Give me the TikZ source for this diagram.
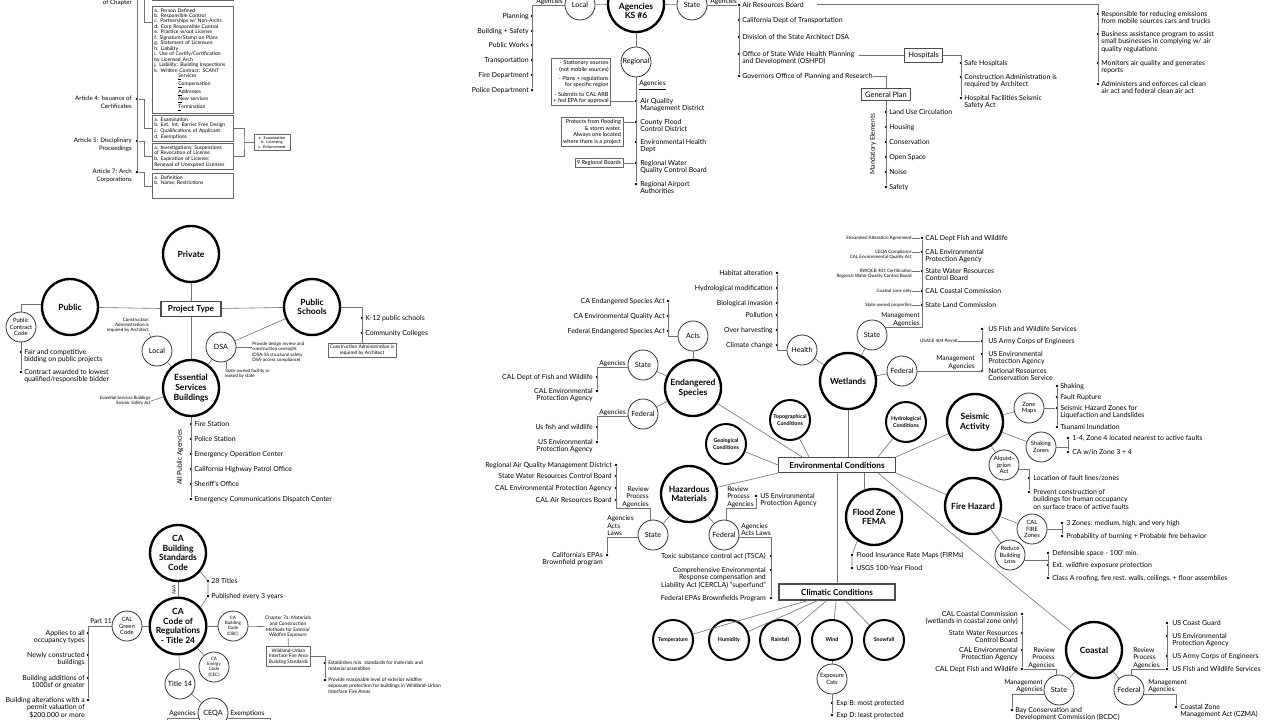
\documentclass[tikz,border=0pt]{standalone}
\usepackage{fontspec}
\setmainfont{Lato}
\usetikzlibrary{positioning,calc}
\setlength{\lineskiplimit}{-5pt}

\begin{document}
\begin{tikzpicture}[
    x=0.75pt, y=-0.75pt,
    conn/.style={draw=black!55, line width=0.45pt},
    bigc/.style={circle, draw, line width=1.8pt, fill=white, minimum size=42pt,
                 inner sep=0pt, align=center, font=\bfseries\fontsize{6.4}{7.2}\selectfont},
    midc/.style={circle, draw, line width=1.5pt, fill=white, minimum size=30pt,
                 inner sep=0pt, align=center, font=\bfseries\fontsize{4}{4.8}\selectfont},
    smallc/.style={circle, draw=black!80, line width=0.6pt, fill=white, minimum size=22.5pt,
                   inner sep=0pt, align=center, font=\fontsize{5.4}{5.9}\selectfont},
    tinyc/.style={smallc, font=\fontsize{3.4}{3.9}\selectfont},
    midtxt/.style={smallc, font=\fontsize{4.4}{4.9}\selectfont},
    hubbox/.style={draw=black!70, line width=0.9pt, fill=white, inner sep=1pt,
                   font=\bfseries\fontsize{6.2}{7}\selectfont},
    tbox/.style={draw=black!70, line width=0.9pt, fill=white, inner xsep=3pt, inner ysep=2.5pt,
                 font=\fontsize{5.6}{6}\selectfont},
    dot/.style={circle, fill=black, inner sep=0pt, minimum size=2.2pt},
    leafr/.style={anchor=north west, inner sep=0pt, align=left, font=\fontsize{5.2}{5.6}\selectfont},
    leafl/.style={anchor=north east, inner sep=0pt, align=right, font=\fontsize{5.2}{5.6}\selectfont},
    lbl/.style={inner sep=0pt, font=\fontsize{5}{5.6}\selectfont},
    note/.style={inner sep=0pt, font=\fontsize{3.4}{3.9}\selectfont},
    notebox/.style={draw=black!60, line width=0.5pt, fill=white, inner sep=1.5pt,
                    font=\fontsize{4.2}{4.9}\selectfont},
    artlbl/.style={inner sep=0pt, align=right, font=\fontsize{4.6}{6}\selectfont},
    artbox/.style={draw=black!60, line width=0.5pt, inner sep=1.5pt, text width=57.5pt,
                   align=left, font=\fontsize{3.8}{4.1}\selectfont},
    rot/.style={rotate=90, inner sep=0pt, font=\fontsize{5}{5.6}\selectfont}
]
\useasboundingbox[fill=white] (0,0) rectangle (1280,720);

% ---------- practice act articles
\coordinate (a3d) at (137,-8);
\node[dot] (a4d) at (137,99) {};
\node[dot] (a5d) at (137,141) {};
\node[dot] (a7d) at (137,172) {};
\draw[conn] (a3d) -- (a7d);
\node[artlbl, anchor=east] (a3) at (132,3) {of Chapter};
\node[artlbl, anchor=north east] (a4) at (132,95.5) {Article 4: Issuance of\\Certificates};
\node[artlbl, anchor=north east] (a5) at (132,137.5) {Article 5: Disciplinary\\Proceedings};
\node[artlbl, anchor=north east] (a7) at (132,168.5) {Article 7: Arch\\Corporations};

\node[artbox, anchor=south west, minimum height=30pt] (box1) at (152,1) {};
\node[artbox, anchor=north west] (box2) at (152,6) {a. Person Defined\\b. Responsible Control\\c. Partnerships w/ Non-Archs\\d. Corp Responsible Control\\e. Practice w/out License\\f. Signature/Stamp on Plans\\g. Statement of Licensure\\h. Liability\\i. Use of Certify/Certification\\by Licensed Arch\\j. Liability: Building Inspections\\k. Written Contract: SCANT\\\hspace*{18pt}\underline{S}ervices\\\hspace*{18pt}\underline{C}ompensation\\\hspace*{18pt}\underline{A}ddresses\\\hspace*{18pt}\underline{N}ew services\\\hspace*{18pt}\underline{T}ermination};
\node[artbox, anchor=north west, font=\fontsize{3.8}{4.4}\selectfont] (box3) at (152,115) {a. Examination\\b. Ext. Int. Barrier Free Design\\c. Qualifications of Applicant\\d. Exemptions};
\node[artbox, anchor=north west, font=\fontsize{3.8}{4.4}\selectfont] (box4) at (152,143) {a. Investigations; Suspensions\\of Revocation of License\\b. Expiration of License;\\Renewal of Unexpired Licenses};
\node[artbox, anchor=north west, font=\fontsize{3.8}{4.4}\selectfont] (box6) at (152,173) {a. Definition\\b. Name; Restrictions\\~\\~};
\node[artbox, text width=24pt, align=center, font=\fontsize{3}{3.6}\selectfont] (box5) at (272,142.5) {a. Examination\\b. Licensing\\c. Enforcement};
\coordinate (brk) at (244,142.5);

\draw[conn] (a3d) -- ++(7,0) |- ($(box2.north west)+(0,16)$);
\draw[conn] (a4d) -- ++(7,0) |- (box3.west);
\draw[conn] (a5d) -- ++(7,0) |- (box4.west);
\draw[conn] (a7d) -- ++(7,0) |- (box6.west);
\draw[conn] (box3.east) -| (brk) |- (box4.east);
\draw[conn] (brk) -- (box5.west);

% ---------- agencies
\node[bigc] (ks) at (636,4) {};
\node[font=\bfseries\fontsize{6.4}{7.2}\selectfont, align=center, inner sep=0pt] (kst) at (636,11) {Agencies\\KS \#6};
\node[smallc] (ksloc) at (580,5) {Local};
\node[smallc] (ksst) at (692,5) {State};
\node[smallc] (ksreg) at (636,62) {Regional};
\draw[conn] (ks) -- (ksloc);
\draw[conn] (ks) -- (ksst);
\draw[conn] (ks) -- (ksreg);

\foreach \yy/\tx [count=\i] in {16/{Planning}, 31/{Building + Safety}, 45/{Public Works}, 60/{Transportation}, 75/{Fire Department}, 90/{Police Department}}{
  \node[dot] (lo\i) at (532,\yy) {};
  \node[leafl] (lot\i) at (529,\yy-3.2) {\tx};
}
\draw[conn] (ksloc.west) -| (lo6);
\node[lbl, anchor=base east] (loag) at (563,3.5) {Agencies};

\foreach \yy/\tx [count=\i] in {5/{Air Resources Board}, 20/{California Dept of Transportation}, 37/{Division of the State Architect DSA}, 54/{Office of State Wide Health Planning\\and Development (OSHPD)}, 76/{Governors Office of Planning and Research}}{
  \node[dot] (sa\i) at (739,\yy) {};
  \node[leafr] (sat\i) at (742,\yy-3.2) {\tx};
}
\draw[conn] (ksst) -- (sa1);
\draw[conn] (sa1) -- (sa5);
\node[lbl, anchor=base east] (saag) at (737,3.5) {Agencies};

\foreach \yy/\tx [count=\i] in {14/{Responsible for reducing emissions\\from mobile sources cars and trucks}, 34/{Business assistance program to assist\\small businesses in complying w/ air\\quality regulations}, 63/{Monitors air quality and generates\\reports}, 84/{Administers and enforces cal clean\\air act and federal clean air act}}{
  \node[dot] (rb\i) at (1098,\yy) {};
  \node[leafr] (rbt\i) at (1101,\yy-3.2) {\tx};
}
\draw[conn] ([xshift=10pt]sat1.east) -| (rb4);

\node[tbox] (hosp) at (923.5,55.5) {Hospitals};
\draw[conn] ([xshift=3pt]hosp.west -| sat4.east) -- (hosp.west);
\foreach \yy/\tx [count=\i] in {63/{Safe Hospitals}, 77/{Construction Administration is\\required by Architect}, 98/{Hospital Facilities Seismic\\Safety Act}}{
  \node[dot] (hp\i) at (961,\yy) {};
  \node[leafr] (hpt\i) at (964,\yy-3.2) {\tx};
}
\draw[conn] (hosp.east) -| (hp3);

\node[tbox] (gplan) at (886,94.5) {General Plan};
\draw[conn] (sat5.east) -| (gplan.north);
\foreach \yy/\tx [count=\i] in {112/{Land Use Circulation}, 127/{Housing}, 142/{Conservation}, 157/{Open Space}, 172/{Noise}, 187/{Safety}}{
  \node[dot] (gp\i) at (886,\yy) {};
  \node[leafr] (gpt\i) at (889,\yy-3.2) {\tx};
}
\draw[conn] (gplan.south) -- (gp6);
\node[rot] (mand) at (873,144) {Mandatory Elements};

\node[lbl, anchor=west] (rgag) at (639,85.5) {\underline{Agencies}};
\foreach \yy/\tx [count=\i] in {101/{Air Quality\\Management District}, 122/{County Flood\\Control District}, 142/{Environmental Health\\Dept}, 163/{Regional Water\\Quality Control Board}, 184/{Regional Airport\\Authorities}}{
  \node[dot] (rg\i) at (636,\yy) {};
  \node[leafr] (rgt\i) at (640,\yy-3.2) {\tx};
}
\draw[conn] (ksreg.south) -- (rg5);
\node[notebox, align=right] (nb1) at (581,82) {- Stationary sources\\(not mobile sources)\\[2pt]- Plans + regulations\\for specific region\\[2pt]- Submits to CAL ARB\\+ fed EPA for approval};
\node[notebox, align=right] (nb2) at (592,132) {Protects from flooding\\\& storm water.\\Always one located\\where there is a project};
\node[notebox, align=right] (nb3) at (599,163) {9 Regional Boards};
\draw[conn] (nb1.east |- rg1) -- (rg1);
\draw[conn] (nb2.east |- rg2) -- (rg2);
\draw[conn] (nb3.east |- rg4) -- (rg4);

% ---------- project type
\node[bigc] (priv) at (191,254) {Private};
\node[hubbox, minimum width=45pt, minimum height=11.25pt] (ptype) at (191,309) {Project Type};
\node[bigc] (pub) at (70,307) {Public};
\node[bigc] (pubs) at (312,307) {Public\\Schools};
\node[bigc] (ess) at (191,388) {Essential\\Services\\Buildings};
\draw[conn] (priv) -- (ptype);
\draw[conn] (pub) -- (ptype);
\draw[conn] (pubs) -- (ptype);
\draw[conn] (ptype) -- (ess);

\node[midtxt] (pcc) at (21,327) {Public\\Contract\\Code};
\draw[conn] (pub.175) -| (pcc.north);
\foreach \yy/\tx [count=\i] in {352/{Fair and competitive\\bidding on public projects}, 372/{Contract awarded to lowest\\qualified/responsible bidder}}{
  \node[dot] (pc\i) at (21,\yy) {};
  \node[leafr] (pct\i) at (24,\yy-3.2) {\tx};
}
\draw[conn] (pcc.south) -- (pc2);

\node[smallc] (loc) at (157,351) {Local};
\draw[conn] (loc) -- (ess);
\node[note, align=right, anchor=south east] (locn) at (149,333) {Construction\\Administration is\\required by Architect};
\draw[conn] (locn.south east) -- (loc);

\node[smallc] (dsa) at (221,347) {DSA};
\draw[conn] (dsa) -- (ess);
\draw[conn] (dsa) -- (pubs);
\node[note, align=left, anchor=north west] (dsan1) at (252,342) {Provide design review and\\construction oversight\\(DSA-SS structural safety\\DSA-access compliance)};
\draw[conn] (dsa.east) -- (dsan1.west |- dsa.east);
\node[note, align=left, anchor=north west] (dsan2) at (225,369) {State owned facility or\\leased by state};
\draw[conn] (dsa.-70) -- (dsa.-70 |- dsan2.north);

\node[note, align=right, anchor=east, font=\itshape\fontsize{3.4}{3.9}\selectfont] (essn) at (151,401) {Essential Services Buildings\\Seismic Safety Act};
\draw[conn] (essn.east) -- (ess);

\foreach \yy/\tx [count=\i] in {424/{Fire Station}, 439/{Police Station}, 454/{Emergency Operation Center}, 469/{California Highway Patrol Office}, 484/{Sheriff's Office}, 499/{Emergency Communications Dispatch Center}}{
  \node[dot] (eb\i) at (191,\yy) {};
  \node[leafr] (ebt\i) at (194,\yy-3.2) {\tx};
}
\draw[conn] (ess.south) -- (eb6);
\node[rot] (apa) at (180,457) {All Public Agencies};

\foreach \yy/\tx [count=\i] in {318/{K-12 public schools}, 333/{Community Colleges}}{
  \node[dot] (ps\i) at (362,\yy) {};
  \node[leafr] (pst\i) at (365,\yy-3.2) {\tx};
}
\node[notebox, align=center, anchor=north, font=\fontsize{3.6}{4.2}\selectfont] (psbox) at (362,343) {Construction Administration is\\required by Architect};
\draw[conn] (pubs.east) -| (psbox.north);

% ---------- building standards
\node[bigc] (cabsc) at (178,553) {CA\\Building\\Standards\\Code};
\node[bigc] (cor) at (178,626) {CA\\Code of\\Regulations\\- Title 24};
\draw[conn] (cabsc) -- (cor);
\node[note, rotate=90] (aka) at (174,590) {AKA};
\node[dot] (cb1) at (208,581) {};
\node[dot] (cb2) at (208,596) {};
\draw[conn] (cabsc.-40) -- (cb1) -- (cb2) -- (cor.40);
\node[leafr] (cbt1) at (211,581-3.2) {28 Titles};
\node[leafr] (cbt2) at (211,596-3.2) {Published every 3 years};

\node[midtxt] (calg) at (127,626) {CAL\\Green\\Code};
\draw[conn] (cor) -- (calg);
\foreach \yy/\tx [count=\i] in {633/{Applies to all\\occupancy types}, 655/{Newly constructed\\buildings}, 678/{Building additions of\\1000sf or greater}, 700/{Building alterations with a\\permit valuation of\\\$200,000 or more}}{
  \node[dot] (cg\i) at (88,\yy) {};
  \node[leafl] (cgt\i) at (85,\yy-3.2) {\tx};
}
\draw[conn] (calg.west) -| (cg4);
\node[lbl, anchor=south west] (p11) at (90,623.5) {Part 11};

\node[tinyc] (cbc) at (233,626) {CA\\Building\\Code\\(CBC)};
\draw[conn] (cor) -- (cbc);
\node[note, align=center, font=\fontsize{3.6}{4.3}\selectfont] (ch7) at (288,627) {Chapter 7a: Materials\\and Construction\\Methods for Exterior\\Wildfire Exposure};
\draw[conn] (cbc) -- (ch7);
\node[notebox, align=center, line width=0.8pt, font=\fontsize{3.6}{4.3}\selectfont] (wui) at (288.5,656.5) {Wildland-Urban\\Interface Fire Area\\Building Standards};
\draw[conn] (ch7) -- (wui);
\foreach \yy/\tx [count=\i] in {663/{Establishes min. standards for materials and\\material assemblies}, 680/{Provide reasonable level of exterior wildfire\\exposure protection for buildings in Wildland-Urban\\Interface Fire Areas}}{
  \node[dot] (wu\i) at (325,\yy) {};
  \node[note, align=left, anchor=north west, font=\fontsize{3.7}{4.4}\selectfont] (wut\i) at (328,\yy-2.6) {\tx};
}
\draw[conn] (wui.east) -| (wu2);

\node[tinyc] (cec) at (214,667) {CA\\Energy\\Code\\(CEC)};
\node[smallc] (t14) at (180,684) {Title 14};
\node[smallc] (ceqa) at (213,713) {CEQA};
\draw[conn] (cor) -- (cec);
\draw[conn] (cor) -- (t14);
\draw[conn] (t14) -- (ceqa);
\node[lbl, anchor=base east] (ceag) at (196,715) {Agencies};
\node[lbl, anchor=base west] (ceex) at (230,715) {Exemptions};
\coordinate (ceqal) at (167,730);
\coordinate (ceqar) at (270,730);
\draw[conn] (ceqa.200) -| (ceqal);
\draw[conn] (ceqa.-20) -| (ceqar);

% ---------- environmental conditions
\node[hubbox, minimum width=87.75pt, minimum height=11.25pt] (env) at (837,465) {Environmental Conditions};

\node[bigc] (endsp) at (693,388) {Endangered\\Species};
\node[smallc] (acts) at (693,336) {Acts};
\draw[conn] (acts) -- (endsp);
\foreach \yy/\tx [count=\i] in {301/{CA Endangered Species Act}, 316/{CA Environmental Quality Act}, 331/{Federal Endangered Species Act}}{
  \node[dot] (ac\i) at (668,\yy) {};
  \node[leafl] (act\i) at (665,\yy-3.2) {\tx};
}
\draw[conn] (acts.west) -| (ac1);

\node[smallc] (esst) at (643,365) {State};
\node[smallc] (esfe) at (643,414) {Federal};
\draw[conn] (esst) -- (endsp);
\draw[conn] (esfe) -- (endsp);
\foreach \yy/\tx [count=\i] in {377/{CAL Dept of Fish and Wildlife}, 391/{CAL Environmental\\Protection Agency}}{
  \node[dot] (ss\i) at (597,\yy) {};
  \node[leafl] (sst\i) at (593,\yy-3.2) {\tx};
}
\foreach \yy/\tx [count=\i] in {427/{Us fish and wildlife}, 442/{US Environmental\\Protection Agency}}{
  \node[dot] (fs\i) at (597,\yy) {};
  \node[leafl] (fst\i) at (593,\yy-3.2) {\tx};
}
\draw[conn] (esst.190) -| (ss2);
\draw[conn] (esfe.190) -| (fs2);
\node[lbl, anchor=base east] (esag1) at (626,365) {Agencies};
\node[lbl, anchor=base east] (esag2) at (626,414) {Agencies};

\node[midc] (geo) at (726,444) {Geological\\Conditions};
\node[midc] (topo) at (790,420) {Topographical\\Conditions};

\node[bigc] (wet) at (848,381) {Wetlands};
\node[smallc] (health) at (802,350) {Health};
\draw[conn] (health) -- (wet);
\foreach \yy/\tx [count=\i] in {273/{Habitat alteration}, 288/{Hydrological modification}, 303/{Biological invasion}, 315/{Pollution}, 330/{Over harvesting}, 345/{Climate change}}{
  \node[dot] (hl\i) at (777,\yy) {};
  \node[leafl] (hlt\i) at (773,\yy-3.2) {\tx};
}
\draw[conn] (health.west) -| (hl1);

\node[smallc] (wst) at (872,335) {State};
\draw[conn] (wst) -- (wet);
\foreach \yy/\tx/\an [count=\i] in {238/{CAL Dept Fish and Wildlife}/{Streambed Alteration Agreement}, 252/{CAL Environmental\\Protection Agency}/{CEQA Compliance\\CAL Environmental Quality Act}, 271/{State Water Resources\\Control Board}/{RWQCB 401 Certification\\Regional Water Quality Control Board}, 291/{CAL Coastal Commission}/{Coastal zone only}, 305/{State Land Commission}/{State owned properties}}{
  \node[dot] (ws\i) at (922,\yy) {};
  \node[leafr] (wsa\i) at (925,\yy-3.2) {\tx};
  \node[note, align=right, anchor=north east] (wsn\i) at (912,\yy-2.2) {\an};
  \draw[conn] (wsn\i.north east |- ws\i) -- (ws\i);
}
\draw[conn] (wst.30) -| (ws1);
\node[lbl, align=right, anchor=south east] (wsma) at (920,326.5) {Management\\Agencies};

\node[smallc] (wfe) at (902,371) {Federal};
\draw[conn] (wfe) -- (wet);
\foreach \yy/\tx [count=\i] in {329/{US Fish and Wildlife Services}, 341/{US Army Corps of Engineers}, 354/{US Environmental\\Protection Agency}, 371/{National Resources\\Conservation Service}}{
  \node[dot] (wf\i) at (982,\yy) {};
  \node[leafr] (wft\i) at (988,\yy-3.2) {\tx};
}
\draw[conn] (wfe.east) -| (wf1);
\node[note, anchor=east] (usace) at (958,341) {USACE 404 Permit};
\draw[conn] (usace.east) -- (wf2);
\node[lbl, align=right, anchor=south east] (wfma) at (975,369.5) {Management\\Agencies};

\node[midc] (hyd) at (906,422) {Hydrological\\Conditions};
\node[bigc] (seis) at (975,422) {Seismic\\Activity};
\node[midtxt] (zm) at (1029,408) {Zone\\Maps};
\node[midtxt] (sz) at (1041,447) {Shaking\\Zones};
\node[midtxt] (alq) at (1004,465) {Alquist-\\priori\\Act};
\draw[conn] (seis) -- (zm);
\draw[conn] (seis) -- (sz);
\draw[conn] (seis) -- (alq);
\foreach \yy/\tx [count=\i] in {386/{Shaking}, 397/{Fault Rupture}, 408/{Seismic Hazard Zones for\\Liquefaction and Landslides}, 427/{Tsunami Inundation}}{
  \node[dot] (zl\i) at (1057,\yy) {};
  \node[leafr] (zlt\i) at (1060,\yy-3.2) {\tx};
}
\draw[conn] (zm.east) -- (zl3);
\draw[conn] (zl1) -- (zl4);
\foreach \yy/\tx [count=\i] in {438/{1-4, Zone 4 located nearest to active faults}, 452/{CA w/in Zone 3 + 4}}{
  \node[dot] (zs\i) at (1068,\yy) {};
  \node[leafr] (zst\i) at (1072,\yy-3.2) {\tx};
}
\draw[conn] (sz.east) -- (sz.east -| zs1);
\draw[conn] (zs1) -- (zs2);
\foreach \yy/\tx [count=\i] in {478/{Location of fault lines/zones}, 492/{Prevent construction of\\buildings for human occupancy\\on surface trace of active faults}}{
  \node[dot] (al\i) at (1029,\yy) {};
  \node[leafr] (alt\i) at (1033,\yy-3.2) {\tx};
}
\draw[conn] (alq.-15) -| (al2);

\node[bigc] (fire) at (973,506) {Fire Hazard};
\node[midtxt] (calf) at (1032,529) {CAL\\FIRE\\Zones};
\node[midtxt] (rbl) at (1010,555) {Reduce\\Building\\Loss};
\draw[conn] (fire) -- (calf);
\draw[conn] (fire) -- (rbl);
\foreach \yy/\tx [count=\i] in {523/{3 Zones: medium, high, and very high}, 536/{Probability of burning + Probable fire behavior}}{
  \node[dot] (fz\i) at (1062,\yy) {};
  \node[leafr] (fzt\i) at (1066,\yy-3.2) {\tx};
}
\draw[conn] (calf.east) -- (calf.east -| fz1);
\draw[conn] (fz1) -- (fz2);
\foreach \yy/\tx [count=\i] in {553/{Defensible space - 100' min.}, 565/{Ext. wildfire exposure protection}, 578/{Class A roofing, fire rest. walls, ceilings, + floor assemblies}}{
  \node[dot] (rl\i) at (1048,\yy) {};
  \node[leafr] (rlt\i) at (1052,\yy-3.2) {\tx};
}
\draw[conn] (rbl.-20) -- (rbl.-20 -| rl1);
\draw[conn] (rl1) -- (rl3);

\node[bigc] (coast) at (1094,650) {Coastal};
\node[smallc] (cst) at (1059,690) {State};
\node[smallc] (cfe) at (1129,690) {Federal};
\draw[conn] (coast) -- (cst);
\draw[conn] (coast) -- (cfe);
\foreach \yy/\tx [count=\i] in {614/{CAL Coastal Commission\\(wetlands in coastal zone only)}, 633/{State Water Resources\\Control Board}, 650/{CAL Environmental\\Protection Agency}, 669/{CAL Dept Fish and Wildlife}}{
  \node[dot] (cs\i) at (1022,\yy) {};
  \node[leafl] (cstx\i) at (1018,\yy-3.2) {\tx};
}
\draw[conn] (cst.100) |- (cs4);
\draw[conn] (cs1) -- (cs4);
\node[lbl, align=right, anchor=north east] (csrp) at (1055,647) {Review\\Process\\Agencies};
\node[lbl, align=right, anchor=north east] (csma) at (1043,679) {Management\\Agencies};
\node[dot] (bcdc) at (1012,710) {};
\node[leafr] (bcdct) at (1015,710-3.2) {Bay Conservation and\\Development Commission (BCDC)};
\draw[conn] (cst.195) -| (bcdc);

\foreach \yy/\tx [count=\i] in {623/{US Coast Guard}, 636/{US Environmental\\Protection Agency}, 656/{US Army Corps of Engineers}, 669/{US Fish and Wildlife Services}}{
  \node[dot] (ck\i) at (1167,\yy) {};
  \node[leafr] (ckt\i) at (1172,\yy-3.2) {\tx};
}
\draw[conn] (cfe.80) |- (ck4);
\draw[conn] (ck1) -- (ck4);
\node[lbl, align=left, anchor=north west] (cfrp) at (1133,647) {Review\\Process\\Agencies};
\node[lbl, align=left, anchor=north west] (cfma) at (1148,679) {Management\\Agencies};
\node[dot] (czma) at (1176,707) {};
\node[leafr] (czmat) at (1180,707-3.2) {Coastal Zone\\Management Act (CZMA)};
\draw[conn] (cfe.-15) -| (czma);

\node[bigc] (haz) at (689,494) {Hazardous\\Materials};
\node[smallc] (hst) at (653,535) {State};
\node[smallc] (hfe) at (724,535) {Federal};
\draw[conn] (haz) -- (hst);
\draw[conn] (haz) -- (hfe);
\foreach \yy/\tx [count=\i] in {465/{Regional Air Quality Management District}, 476/{State Water Resources Control Board}, 488/{CAL Environmental Protection Agency}, 500/{CAL Air Resources Board}}{
  \node[dot] (hs\i) at (616,\yy) {};
  \node[leafl] (hstx\i) at (612,\yy-3.2) {\tx};
}
\coordinate (hsb) at (616,508);
\draw[conn] (hst.100) |- (hsb);
\draw[conn] (hs1) -- (hsb);
\node[lbl, align=right, anchor=north east] (hsrp) at (649,486) {Review\\Process\\Agencies};
\node[lbl, align=left, anchor=south west] (hsal) at (607,536) {Agencies\\Acts\\Laws};
\node[dot] (hsl) at (607,555) {};
\node[leafl] (hslt) at (603,555-3.2) {California's EPAs\\Brownfield program};
\draw[conn] (hst.190) -| (hsl);

\node[dot] (hfr) at (756,496) {};
\coordinate (hfb) at (756,508);
\node[leafr] (hfrt) at (760,496-3.2) {US Environmental\\Protection Agency};
\draw[conn] (hfe.80) |- (hfb) -- (hfr);
\node[lbl, align=left, anchor=north west] (hfrp) at (727,486) {Review\\Process\\Agencies};
\node[lbl, align=left, anchor=south west] (hfal) at (741,536) {Agencies\\Acts Laws};
\foreach \yy/\tx [count=\i] in {556/{Toxic substance control act (TSCA)}, 570/{Comprehensive Environmental\\Response compensation and\\Liability Act (CERCLA) "superfund"}, 598/{Federal EPAs Brownfields Program}}{
  \node[dot] (hf\i) at (771,\yy) {};
  \node[leafl] (hftx\i) at (766,\yy-3.2) {\tx};
}
\draw[conn] (hfe.-10) -| (hf3);

\node[bigc] (flood) at (874,517) {Flood Zone\\FEMA};
\foreach \yy/\tx [count=\i] in {555/{Flood Insurance Rate Maps (FIRMs)}, 568/{USGS 100-Year Flood}}{
  \node[dot] (fl\i) at (852,\yy) {};
  \node[leafr] (flt\i) at (856,\yy-3.2) {\tx};
}
\draw[conn] (flood.235) -- (fl1) -- (fl2);

% links to the hub
\draw[conn] (endsp) -- ($(env.north)+(-35,0)$);
\draw[conn] (geo) -- (env.west);
\draw[conn] (topo) -- ($(env.north)+(-28,0)$);
\draw[conn] (wet) -- (wet |- env.north);
\draw[conn] (hyd) -- ($(env.north east)+(-18,0)$);
\draw[conn] (seis) -- (env.north east);
\draw[conn] (fire) -- (env.south east);
\draw[conn] (coast) -- ($(env.south east)+(-18,0)$);
\draw[conn] (haz) -- (env.south west);
\draw[conn] (flood.110) -- (flood.110 |- env.south);

% climatic
\node[hubbox, minimum width=87pt, minimum height=12pt] (clim) at (837,592) {Climatic Conditions};
\draw[conn] (env) -- (clim);
\node[midc] (temp) at (673,640) {Temperature};
\node[midc] (hum) at (729,640) {Humidity};
\node[midc] (rain) at (780,640) {Rainfall};
\node[midc] (wind) at (832,640) {Wind};
\node[midc] (snow) at (884,640) {Snowfall};
\foreach \n in {temp, hum, rain, wind, snow}
  \draw[conn] (clim) -- (\n);
\node[midtxt] (expc) at (832,679) {Exposure\\Cats};
\draw[conn] (wind) -- (expc);
\foreach \yy/\tx [count=\i] in {703/{Exp B: most protected}, 715/{Exp D: least protected}}{
  \node[dot] (ex\i) at (832,\yy) {};
  \node[leafr] (ext\i) at (836,\yy-3.2) {\tx};
}
\draw[conn] (expc.south) -- (ex2);
\end{tikzpicture}
\end{document}
